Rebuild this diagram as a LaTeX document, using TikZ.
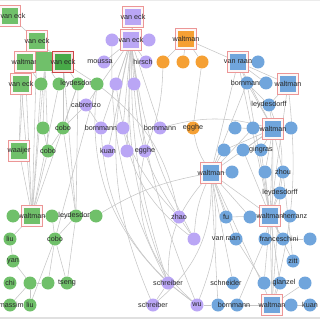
\documentclass[tikz,border=0pt]{standalone}
\usepackage{fontspec}
\setmainfont{Liberation Sans}
\usetikzlibrary{backgrounds}
\definecolor{cg}{RGB}{112,192,106}
\definecolor{cgd}{RGB}{72,170,72}
\definecolor{cp}{RGB}{186,166,245}
\definecolor{co}{RGB}{245,160,52}
\definecolor{cb}{RGB}{112,165,220}
\definecolor{sqb}{RGB}{236,150,150}
\definecolor{sqbd}{RGB}{205,70,70}
\definecolor{edg}{RGB}{198,198,198}
\definecolor{txt}{RGB}{40,40,40}
\tikzset{
  lab/.style={font=\fontsize{7.2}{8}\selectfont, text=txt, inner sep=0pt},
  every label/.style={lab},
  circ/.style={circle, minimum size=13pt, inner sep=0pt, fill=#1},
  sqr/.style={rectangle, minimum size=18pt, inner sep=0pt, fill=#1, draw=white!92!sqb, line width=2pt,
     preaction={draw=sqb, line width=4.4pt}},
  sqd/.style={rectangle, minimum size=18pt, inner sep=0pt, fill=#1, draw=white!85!sqbd, line width=2pt,
     preaction={draw=sqbd, line width=4.4pt}},
  sqn/.style={rectangle, minimum size=19pt, inner sep=0pt, fill=#1},
  ed/.style={draw=edg, line width=0.55pt},
}
\begin{document}
\begin{tikzpicture}[x=1pt,y=-1pt]
\useasboundingbox (0,0) rectangle (320,320);
\draw[black!12, line width=1.5pt] (0,318) -- (320,318);
\draw[black!8, line width=1pt] (0,0.5) -- (320,0.5);
% ---------- green
\node[sqr=cg, label={[xshift=3pt]center:van eck}] (g1) at (10,16) {};
\node[sqr=cg, label=center:van eck] (g2) at (37,41) {};
\node[sqr=cg, label=center:waltman] (g3) at (25,62) {};
\node[sqn=cg] (g4) at (45,62) {};
\node[sqd=cgd, label=center:van eck] (g5) at (63,62) {};
\node[sqr=cg, label=center:van eck] (g6) at (21,84) {};
\node[circ=cg] (g7) at (41,84) {};
\node[circ=cg] (g8) at (59,84) {};
\node[circ=cg, label=center:leydesdorff] (g9) at (78,84) {};
\node[circ=cg] (g10) at (97,84) {};
\node[circ=cg] (g11) at (43,128) {};
\node[circ=cg, label=center:cobo] (g12) at (63,128) {};
\node[sqr=cg, label=center:waaijer] (g13) at (19,151) {};
\node[circ=cg, label=center:cobo] (g14) at (48,151) {};
\node[sqr=cg, label=center:waltman] (g15) at (32,216) {};
\node[circ=cg] (g16) at (13,216) {};
\node[circ=cg] (g17) at (52,216) {};
\node[circ=cg, label=center:leydesdorff] (g18) at (76,216) {};
\node[circ=cg] (g19) at (96,216) {};
\node[circ=cg, label=center:liu] (g20) at (10,239) {};
\node[circ=cg, label=center:cobo] (g21) at (55,239) {};
\node[circ=cg, label=center:yan] (g22) at (13,261) {};
\node[circ=cg, label=center:chi] (g23) at (10,283) {};
\node[circ=cg] (g24) at (30,283) {};
\node[circ=cg] (g25) at (48,283) {};
\node[circ=cg, label=center:tseng] (g26) at (67,283) {};
\node[circ=cg, label={[xshift=2pt]center:massimi}] (g27) at (10,305) {};
\node[circ=cg, label=center:liu] (g28) at (30,305) {};
% ---------- purple
\node[sqr=cp, label=center:van eck] (p1) at (133,17) {};
\node[circ=cp] (p3) at (112,40) {};
\node[circ=cp] (p4) at (149,40) {};
\node[sqr=cp, label=center:van eck] (p2) at (131,40) {};
\node[circ=cp, label={[xshift=-4pt]center:moussa}] (p5) at (104,62) {};
\node[circ=cp, label={[xshift=-3pt]center:hirsch}] (p6) at (146,62) {};
\node[circ=cp] (p7) at (116,84) {};
\node[circ=cp] (p8) at (134,84) {};
\node[circ=cp, label=center:cabrerizo] (p9) at (86,105) {};
\node[circ=cp, label=center:bornmann] (p10) at (101,128) {};
\node[circ=cp] (p11) at (123,128) {};
\node[circ=cp, label=center:bornmann] (p12) at (160,128) {};
\node[circ=cp, label=center:kuan] (p13) at (108,151) {};
\node[circ=cp] (p14) at (127,151) {};
\node[circ=cp, label=center:egghe] (p15) at (145,151) {};
\node[circ=cp, label=center:zhao] (p16) at (179,217) {};
\node[circ=cp] (p17) at (194,239) {};
\node[circ=cp, label=center:schreiber] (p18) at (168,283) {};
\node[circ=cp, label=center:schreiber] (p19) at (153,305) {};
\node[circ=cp, label=center:wu] (p20) at (197,305) {};
% ---------- orange
\node[sqr=co, label=center:waltman] (o1) at (186,39) {};
\node[circ=co] (o2) at (163,62) {};
\node[circ=co] (o3) at (183,62) {};
\node[circ=co] (o4) at (202,62) {};
\node[circ=co, label=center:egghe] (o5) at (193,128) {};
% ---------- blue
\node[circ=cb] (b2) at (258,62) {};
\node[sqr=cb, label=center:van raan] (b1) at (238,62) {};
\node[circ=cb, label=center:bornmann] (b3) at (247,83) {};
\node[circ=cb] (b4) at (266,83) {};
\node[sqr=cb, label=center:waltman] (b5) at (288,84) {};
\node[circ=cb, label=center:leydesdorff] (b6) at (269,105) {};
\node[circ=cb] (b7) at (235,128) {};
\node[circ=cb] (b8) at (253,128) {};
\node[circ=cb] (b10) at (291,128) {};
\node[sqr=cb, label=center:waltman] (b9) at (273,129) {};
\node[circ=cb] (b11) at (224,150) {};
\node[circ=cb] (b12) at (243,150) {};
\node[circ=cb, label=center:gingras] (b13) at (261,150) {};
\node[circ=cb] (b15) at (232,172) {};
\node[sqr=cb, label=center:waltman] (b14) at (211,173) {};
\node[circ=cb] (b16) at (265,172) {};
\node[circ=cb, label=center:zhou] (b17) at (283,172) {};
\node[circ=cb, label=center:leydesdorff] (b18) at (280,193) {};
\node[circ=cb, label=center:fu] (b19) at (226,217) {};
\node[circ=cb] (b20) at (250,217) {};
\node[circ=cb, label={[xshift=5pt]center:herranz}] (b22) at (290,216) {};
\node[sqr=cb, label=center:waltman] (b21) at (270,216) {};
\node[circ=cb, label={[xshift=-10pt]center:van raan}] (b23) at (236,239) {};
\node[circ=cb] (b24) at (265,239) {};
\node[circ=cb, label={[xshift=-4pt]center:franceschini}] (b25) at (283,239) {};
\node[circ=cb] (b26) at (310,239) {};
\node[circ=cb, label=center:zitt] (b27) at (293,261) {};
\node[circ=cb, label={[xshift=-7pt]center:schneider}] (b28) at (233,283) {};
\node[circ=cb] (b29) at (264,283) {};
\node[circ=cb, label={[xshift=4pt]center:glanzel}] (b30) at (280,283) {};
\node[circ=cb] (b31) at (305,283) {};
\node[circ=cb] (b32) at (218,305) {};
\node[circ=cb, label={[xshift=-3pt]center:bornmann}] (b33) at (237,305) {};
\node[circ=cb] (b35) at (291,305) {};
\node[circ=cb, label=center:kuan] (b36) at (310,305) {};
\node[sqr=cb, label=center:waltman] (b34) at (272,305) {};
% ---------- edges
\begin{scope}[on background layer]
\foreach \a/\b in {g1/g2,g2/g3,g2/g4,g2/g5,g3/g6,g3/g7,g4/g8,g5/g9,g5/g10,g3/g13,g6/g13,g4/g11,
  g5/g12,g9/g12,g12/g14,g11/g14,g13/g15,g14/g15,g15/g16,g15/g17,g15/g18,g15/g19,g15/g20,
  g17/g21,g18/g21,g21/g26,g21/g25,g20/g22,g22/g24,g24/g25,g18/g26,g24/g27,g24/g28,g21/g28,
  g4/g15,g4/g14,g8/g15,g7/g15,g10/g21,g9/g18,g12/g18,g2/g6,
  p1/p2,p2/p3,p2/p4,p2/p5,p2/p6,p2/p7,p2/p8,p2/p9,p2/p10,p2/p11,p2/p12,p2/p13,p2/p14,p2/p15,
  p9/p10,p9/g12,p16/p17,p18/p19,p18/p20,
  o1/o2,o1/o3,o1/o4,o1/b1,o4/o5,
  b1/b2,b1/b3,b1/b4,b1/b5,b3/b6,b5/b6,b1/b9,b3/b9,b6/b9,b9/b7,b9/b8,b9/b10,b9/b11,b9/b12,
  b9/b13,b9/b16,b9/b17,b14/b15,b14/b11,b14/b19,b14/b20,b14/b21,b14/b23,b14/b28,b14/b32,
  b21/b19,b21/b20,b21/b22,b21/b24,b21/b25,b21/b27,b21/b29,b21/b30,b21/b34,b34/b33,
  b34/b35,b34/b36,b34/b30,b34/b31,b18/b21,b17/b18,b16/b21,b25/b26,b30/b29,b23/b29,
  b1/b14,b3/b21,b9/b21,b13/b21,b12/b21,b8/b14,b18/b34,b17/b27,b24/b33}
  \draw[ed] (\a) -- (\b);
\foreach \a/\b in {g3/g15,g6/g15,g5/g18,g9/g15,g2/g15,b3/b14,b9/b14,b1/b21,b5/b21,b9/b34,b14/b34}
  \draw[ed] (\a) -- (\b);
\draw[ed] (p2) to[bend right=12] (p18);
\draw[ed] (p2) to[bend right=18] (p19);
\draw[ed] (p2) to[bend right=8] (p20);
\draw[ed] (p1) to[bend right=10] (p18);
\draw[ed] (p8) to[bend right=15] (p16);
\draw[ed] (p7) to[bend right=18] (p16);
\draw[ed] (p3) to[bend right=14] (p18);
\draw[ed] (p2) to[bend right=10] (p17);
\draw[ed] (p11) to[bend right=20] (p17);
\draw[ed] (p10) to[bend right=25] (p20);
\draw[ed] (g19) to[bend left=10] (b14);
\draw[ed] (p16) to[bend right=20] (g10);
\draw[ed] (p17) to[bend left=10] (b14);
\draw[ed] (p20) -- (b32);
\draw[ed] (p18) to[bend left=20] (b14);
\draw[ed] (p15) to[bend right=30] (p20);
\draw[ed] (p12) to[bend left=15] (b9);
\draw[ed] (o5) to[bend right=10] (b14);
\draw[ed] (o2) to[bend left=10] (p15);
\draw[ed] (g10) to[bend right=25] (p18);
\draw[ed] (b6) to[bend left=20] (b21);
\draw[ed] (b5) to[bend left=10] (b34);
\draw[ed] (b14) to[bend left=15] (p20);
\draw[ed] (b14) to[bend left=25] (p19);
\end{scope}
\end{tikzpicture}
\end{document}
